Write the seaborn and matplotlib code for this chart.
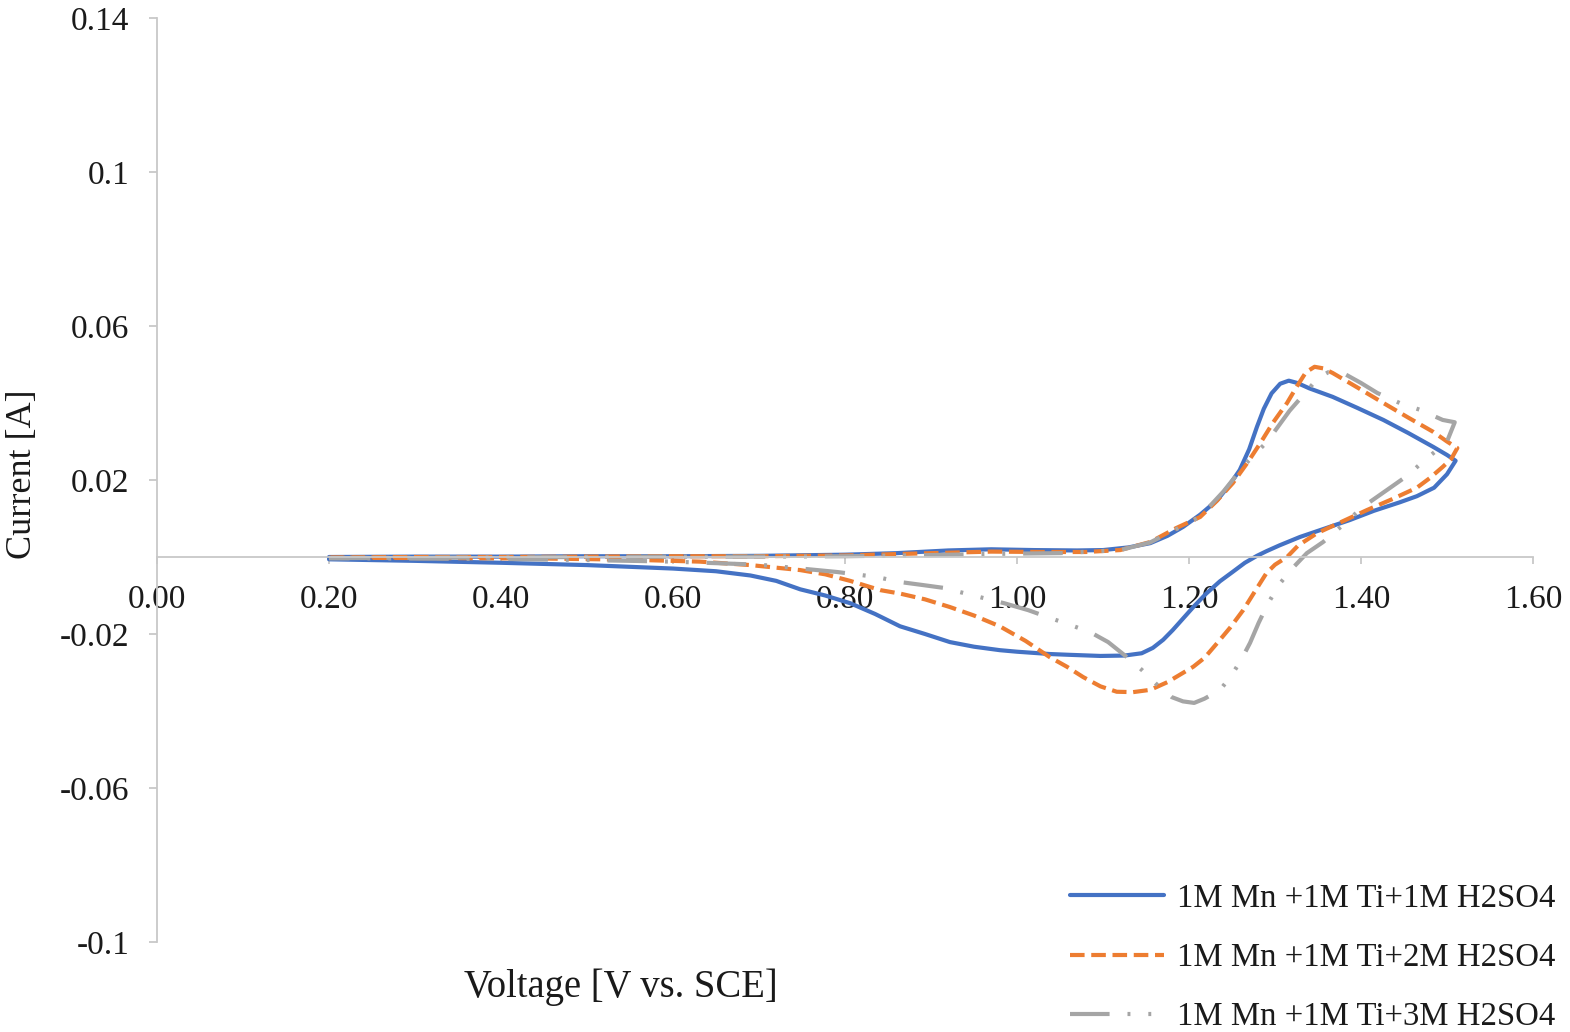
"""Voltamograma cíclico: 1M Mn + 1M Ti con distinta concentración de H2SO4."""

import matplotlib

matplotlib.use("Agg")

import matplotlib.pyplot as plt  # noqa: E402
import matplotlib.ticker as mticker  # noqa: E402
import seaborn as sns  # noqa: E402

# --- datos (barrido directo + barrido inverso) ---

# 1M H2SO4
v_1m = [0.20, 0.30, 0.40, 0.50, 0.60, 0.70, 0.80, 0.86, 0.92, 0.97, 1.02, 1.07,
        1.10, 1.13, 1.155, 1.175, 1.193, 1.213, 1.233, 1.248, 1.259, 1.270, 1.279,
        1.287, 1.296, 1.306, 1.316, 1.326, 1.340, 1.367, 1.396, 1.426, 1.455, 1.484,
        1.500, 1.510,
        1.500, 1.485, 1.465, 1.445, 1.415, 1.387, 1.358, 1.329, 1.305, 1.290, 1.279,
        1.265, 1.250, 1.236, 1.220, 1.205, 1.193, 1.181, 1.170, 1.158, 1.145, 1.125,
        1.097, 1.060, 1.038, 1.000, 0.980, 0.950, 0.922, 0.893, 0.864, 0.835, 0.806,
        0.777, 0.748, 0.720, 0.690, 0.650, 0.600, 0.500, 0.400, 0.300, 0.200]
i_1m = [0.0000, 0.0001, 0.0001, 0.0002, 0.0002, 0.0003, 0.0006, 0.0010, 0.0017,
        0.0020, 0.0018, 0.0017, 0.0018, 0.0025, 0.0036, 0.0055, 0.0078, 0.0110,
        0.0148, 0.0190, 0.0226, 0.0280, 0.0338, 0.0385, 0.0425, 0.0450, 0.0458,
        0.0452, 0.0438, 0.0416, 0.0387, 0.0356, 0.0322, 0.0286, 0.0265, 0.0250,
        0.0215, 0.0180, 0.0158, 0.0142, 0.0120, 0.0096, 0.0074, 0.0052, 0.0030,
        0.0015, 0.0003, -0.0015, -0.0040, -0.0063, -0.0095, -0.0130, -0.0160,
        -0.0190, -0.0215, -0.0236, -0.0250, -0.0256, -0.0257, -0.0254, -0.0252,
        -0.0246, -0.0242, -0.0233, -0.0221, -0.0200, -0.0180, -0.0148, -0.0120,
        -0.0100, -0.0084, -0.0062, -0.0048, -0.0037, -0.0030, -0.0021, -0.0015,
        -0.0010, -0.0006]

# 2M H2SO4
v_2m = [0.20, 0.30, 0.40, 0.50, 0.60, 0.70, 0.80, 0.90, 0.97, 1.03, 1.08, 1.12,
        1.155, 1.185, 1.213, 1.232, 1.251, 1.268, 1.283, 1.298, 1.314, 1.326, 1.336,
        1.346, 1.356, 1.367, 1.396, 1.426, 1.455, 1.484, 1.500, 1.512,
        1.505, 1.495, 1.480, 1.465, 1.436, 1.407, 1.378, 1.349, 1.327, 1.314, 1.300,
        1.290, 1.277, 1.263, 1.248, 1.233, 1.218, 1.205, 1.193, 1.175, 1.155, 1.135,
        1.116, 1.097, 1.077, 1.058, 1.038, 1.010, 0.980, 0.950, 0.922, 0.893, 0.864,
        0.841, 0.806, 0.777, 0.748, 0.690, 0.631, 0.550, 0.450, 0.350, 0.200]
i_2m = [-0.0002, 0.0000, 0.0000, 0.0001, 0.0002, 0.0002, 0.0004, 0.0010, 0.0014,
        0.0013, 0.0013, 0.0018, 0.0039, 0.0075, 0.0104, 0.0145, 0.0192, 0.0245,
        0.0296, 0.0350, 0.0400, 0.0445, 0.0480, 0.0494, 0.0490, 0.0478, 0.0440,
        0.0400, 0.0362, 0.0325, 0.0300, 0.0283,
        0.0255, 0.0234, 0.0205, 0.0180, 0.0150, 0.0122, 0.0092, 0.0062, 0.0030,
        0.0000, -0.0020, -0.0042, -0.0088, -0.0138, -0.0183, -0.0223, -0.0262,
        -0.0285, -0.0301, -0.0325, -0.0345, -0.0351, -0.0350, -0.0336, -0.0312,
        -0.0285, -0.0260, -0.0218, -0.0180, -0.0152, -0.0130, -0.0110, -0.0095,
        -0.0086, -0.0062, -0.0045, -0.0034, -0.0021, -0.0012, -0.0007, -0.0004,
        -0.0003, -0.0002]

# 3M H2SO4
v_3m = [0.20, 0.30, 0.40, 0.50, 0.60, 0.70, 0.80, 0.90, 0.97, 1.05, 1.12, 1.155,
        1.185, 1.213, 1.240, 1.265, 1.291, 1.317, 1.335, 1.350, 1.362, 1.379, 1.400,
        1.419, 1.445, 1.469, 1.495, 1.509,
        1.500, 1.487, 1.474, 1.455, 1.434, 1.402, 1.380, 1.356, 1.337, 1.320, 1.306,
        1.292, 1.281, 1.271, 1.260, 1.248, 1.238, 1.230, 1.218, 1.206, 1.193, 1.180,
        1.162, 1.145, 1.125, 1.106, 1.085, 1.060, 1.038, 1.013, 0.985, 0.960, 0.937,
        0.914, 0.891, 0.864, 0.837, 0.791, 0.740, 0.700, 0.600, 0.500, 0.400, 0.300,
        0.200]
i_3m = [-0.0003, -0.0002, -0.0001, 0.0000, 0.0001, 0.0001, 0.0002, 0.0005, 0.0008,
        0.0010, 0.0018, 0.0038, 0.0072, 0.0105, 0.0170, 0.0240, 0.0300, 0.0380,
        0.0426, 0.0465, 0.0480, 0.0478, 0.0452, 0.0426, 0.0400, 0.0382, 0.0356,
        0.0350,
        0.0300, 0.0275, 0.0252, 0.0213, 0.0180, 0.0130, 0.0085, 0.0039, 0.0010,
        -0.0030, -0.0068, -0.0120, -0.0171, -0.0223, -0.0270, -0.0312, -0.0340,
        -0.0353, -0.0368, -0.0379, -0.0375, -0.0364, -0.0330, -0.0293, -0.0255,
        -0.0221, -0.0195, -0.0175, -0.0158, -0.0138, -0.0120, -0.0106, -0.0093,
        -0.0080, -0.0073, -0.0065, -0.0052, -0.0039, -0.0028, -0.0020, -0.0012,
        -0.0008, -0.0005, -0.0004, -0.0003]

labels = ["1M Mn +1M Ti+1M H2SO4", "1M Mn +1M Ti+2M H2SO4", "1M Mn +1M Ti+3M H2SO4"]
colors = ["#4472C4", "#ED7D31", "#A5A5A5"]
styles = ["-", (0, (3.5, 1.6)), (0, (9.5, 4.3, 0.7, 4.3, 0.7, 4.3))]

x_ticks = [0.0, 0.2, 0.4, 0.6, 0.8, 1.0, 1.2, 1.4, 1.6]
y_ticks = [-0.1, -0.06, -0.02, 0.02, 0.06, 0.1, 0.14]


def main() -> None:
    sns.set_style("white")
    plt.rcParams["font.family"] = ["Liberation Serif", "DejaVu Serif"]

    fig = plt.figure(figsize=(15.7, 10.32), dpi=100)
    ax = fig.add_axes([157 / 1570, 1 - 942 / 1032, 1376 / 1570, 924 / 1032])

    series = [(v_1m, i_1m), (v_2m, i_2m), (v_3m, i_3m)]
    for (v, i), lab, col, ls in zip(series, labels, colors, styles):
        sns.lineplot(x=v, y=i, sort=False, estimator=None, color=col, lw=3,
                     linestyle=ls, label=lab, ax=ax)

    ax.set_xlim(0, 1.6)
    ax.set_ylim(-0.1, 0.14)
    ax.set_xticks(x_ticks)
    ax.set_yticks(y_ticks)
    ax.xaxis.set_major_formatter(mticker.FormatStrFormatter("%.2f"))
    ax.yaxis.set_major_formatter(mticker.FuncFormatter(lambda v, _: f"{v:g}"))

    grey = "#c8c8c8"
    for side in ("top", "right"):
        ax.spines[side].set_visible(False)
    ax.spines["bottom"].set_position(("data", 0))
    for side in ("left", "bottom"):
        ax.spines[side].set_color(grey)
        ax.spines[side].set_linewidth(1.3)
    ax.tick_params(axis="y", direction="out", length=6, width=1.3, color=grey,
                   pad=14, labelsize=24, labelcolor="#1a1a1a", left=True)
    ax.tick_params(axis="x", direction="out", length=5, width=1.3, color=grey,
                   pad=15, labelsize=24, labelcolor="#1a1a1a", bottom=True)
    ax.set_xlabel("")
    ax.set_ylabel("")

    fig.text(23 / 1570, 1 - 474 / 1032, "Current [A]", rotation=90, ha="center",
             va="center", fontsize=26, color="#1a1a1a")
    fig.text(621 / 1570, 1 - 987 / 1032, "Voltage [V vs. SCE]", ha="center",
             va="center", fontsize=27.8, color="#1a1a1a")

    ax.legend(loc="lower right", bbox_to_anchor=(1562 / 1570, -7 / 1032),
              bbox_transform=fig.transFigure, frameon=False, fontsize=23.6,
              handlelength=2.87, handletextpad=0.4, labelspacing=0.88,
              borderaxespad=0, borderpad=0.2, labelcolor="#1a1a1a")

    fig.savefig("out.png", dpi=100)


if __name__ == "__main__":
    main()
